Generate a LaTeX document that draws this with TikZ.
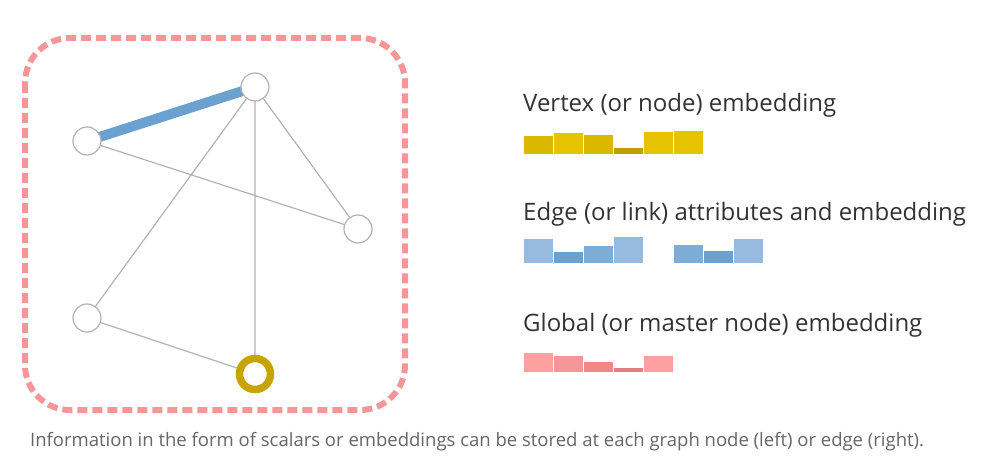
\documentclass[tikz,border=0pt]{standalone}
\usepackage{fontspec}
\setmainfont{Open Sans}
\begin{document}
\begin{tikzpicture}[x=1pt,y=-1pt,
  gn/.style={circle,draw=black!30,fill=white,line width=1.2pt,minimum size=28pt,inner sep=0pt},
  ge/.style={draw=black!30,line width=1.2pt},
  lbl/.style={anchor=base west,inner sep=0pt,font=\fontsize{24}{28}\selectfont,text=black!80},
  bar/.style={draw=white,line width=0.8pt}]
\useasboundingbox (0,0) rectangle (1001,465);
\draw[color={rgb,255:red,246;green,150;blue,150},line width=6pt,dash pattern=on 10pt off 5pt,rounded corners=45pt] (25,38) rectangle (405,410);
\coordinate (a0) at (255,87);
\coordinate (a1) at (87,141);
\coordinate (a2) at (358,229);
\coordinate (a3) at (87,318);
\coordinate (a4) at (255,374);
\draw[ge] (a0)--(a2) (a0)--(a3) (a0)--(a4) (a1)--(a2) (a3)--(a4);
\draw[line width=10pt,color={rgb,255:red,106;green,161;blue,207}] (a1)--(a0);
\node[gn] (n0) at (a0) {};
\node[gn] (n1) at (a1) {};
\node[gn] (n2) at (a2) {};
\node[gn] (n3) at (a3) {};
\node[circle,draw={rgb,255:red,200;green,164;blue,0},fill=white,line width=7.5pt,minimum size=31pt,inner sep=0pt] (n4) at (a4) {};
\node[lbl] (t1) at (523,112) {Vertex (or node) embedding};
\node[lbl] (t2) at (523,221) {Edge (or link) attributes and embedding};
\node[lbl] (t3) at (523,331) {Global (or master node) embedding};
\node[anchor=base west,inner sep=0pt,font=\fontsize{18.5}{20}\selectfont,text=black!60] (cap) at (30,446) {Information in the form of scalars or embeddings can be stored at each graph node (left) or edge (right).};
% yellow
\definecolor{y1}{RGB}{218,184,0}\definecolor{y2}{RGB}{230,194,0}\definecolor{y3}{RGB}{190,160,0}
\fill[bar,fill=y1] (523,135) rectangle (553,154);
\fill[bar,fill=y2] (553,132) rectangle (583,154);
\fill[bar,fill=y1] (583,134.7) rectangle (613,154);
\fill[bar,fill=y3] (613,147) rectangle (643,154);
\fill[bar,fill=y2] (643,131) rectangle (673,154);
\fill[bar,fill=y2] (673,130) rectangle (703,154);
% blue
\definecolor{b1}{RGB}{150,187,222}\definecolor{b2}{RGB}{106,161,207}\definecolor{b3}{RGB}{125,173,213}
\fill[bar,fill=b1] (523,238) rectangle (553,263);
\fill[bar,fill=b2] (553,251.5) rectangle (583,263);
\fill[bar,fill=b3] (583,245) rectangle (613,263);
\fill[bar,fill=b1] (613,236.7) rectangle (643,263);
\fill[bar,fill=b3] (673,244) rectangle (703,263);
\fill[bar,fill=b2] (703,250.5) rectangle (733,263);
\fill[bar,fill=b1] (733,238) rectangle (763,263);
% pink
\definecolor{p1}{RGB}{252,160,160}\definecolor{p2}{RGB}{247,150,150}\definecolor{p3}{RGB}{240,136,136}\definecolor{p4}{RGB}{228,125,125}
\fill[bar,fill=p1] (523,352) rectangle (553,372);
\fill[bar,fill=p2] (553,355.7) rectangle (583,372);
\fill[bar,fill=p3] (583,361) rectangle (613,372);
\fill[bar,fill=p4] (613,367.7) rectangle (643,372);
\fill[bar,fill=p1] (643,355) rectangle (673,372);
\end{tikzpicture}
\end{document}
